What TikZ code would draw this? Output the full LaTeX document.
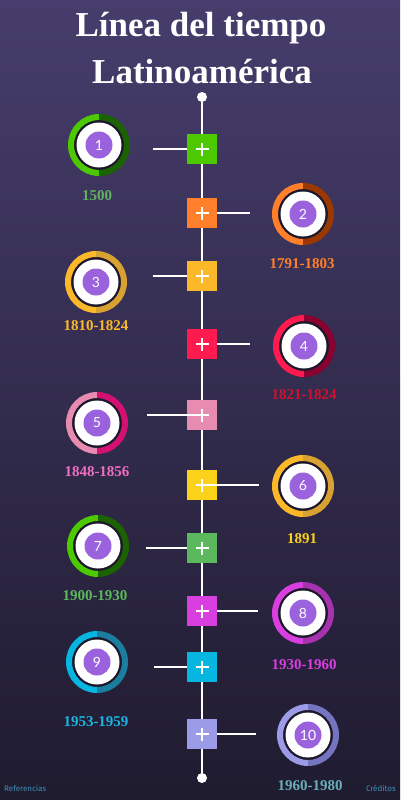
\documentclass[tikz,border=0pt]{standalone}
\usepackage{fontspec}
\setmainfont{Liberation Serif}
\newfontfamily\badgefont{Lato}
\newfontfamily\footfont{Fira Sans}
\usetikzlibrary{positioning}

\definecolor{bgtop}{HTML}{463D6C}
\definecolor{bgbottom}{HTML}{1F1B2F}
\definecolor{badgepurple}{HTML}{9B62DE}
\definecolor{shadowring}{HTML}{1C1829}
\definecolor{footblue}{HTML}{3E8FB5}
% square / ring colours
\definecolor{cA}{HTML}{4CC900} \definecolor{dA}{HTML}{1B6300}
\definecolor{cB}{HTML}{FF7F2A} \definecolor{dB}{HTML}{9A3800}
\definecolor{cC}{HTML}{FBB829} \definecolor{dC}{HTML}{D8A233}
\definecolor{cD}{HTML}{FF1A4F} \definecolor{dD}{HTML}{8A0030}
\definecolor{cE}{HTML}{E88BB0} \definecolor{dE}{HTML}{D41073}
\definecolor{cF}{HTML}{FBD219}
\definecolor{cG}{HTML}{5CB85C}
\definecolor{cH}{HTML}{D83EE0} \definecolor{dH}{HTML}{A732B0}
\definecolor{cI}{HTML}{06B6E0} \definecolor{dI}{HTML}{1B7E9E}
\definecolor{cJ}{HTML}{9B9BE8} \definecolor{dJ}{HTML}{7474C0}
% year label colours
\definecolor{yA}{HTML}{5FB35F}
\definecolor{yD}{HTML}{D0122F}
\definecolor{yE}{HTML}{F06EC0}
\definecolor{yI}{HTML}{1CB4E0}
\definecolor{yJ}{HTML}{6AADB8}

% two-tone ring round a badge node
\newcommand{\tworing}[3]{%
  \fill[shadowring] (#1) circle[radius=25];
  \fill[white] (#1) circle[radius=22.5];
  \begin{scope}
    \clip (#1) ++(-33,-33) rectangle ++(33,66);
    \draw[#2, line width=6pt] (#1) circle[radius=28];
  \end{scope}
  \begin{scope}
    \clip (#1) ++(0,-33) rectangle ++(33,66);
    \draw[#3, line width=6pt] (#1) circle[radius=28];
  \end{scope}
}

\begin{document}
\begin{tikzpicture}[x=1pt, y=-1pt,
    plusbox/.style={minimum size=30pt, inner sep=0pt,
      path picture={\draw[white, line width=2.4pt]
        (path picture bounding box.center) +(-6.5pt,0pt) -- +(6.5pt,0pt)
        (path picture bounding box.center) +(0pt,-6.5pt) -- +(0pt,6.5pt);}},
    enddot/.style={circle, fill=white, inner sep=0pt, minimum size=10pt},
    link/.style={white, line width=1.5pt},
    badge/.style={circle, fill=badgepurple, text=white, minimum size=27pt,
      inner sep=0pt, font=\badgefont\fontsize{14}{14}\selectfont},
    year/.style={anchor=base, inner sep=0pt, font=\bfseries\fontsize{15}{15}\selectfont},
    heading/.style={anchor=base, text=white, font=\bfseries\fontsize{35}{35}\selectfont},
    foot/.style={anchor=base, inner sep=0pt, text=footblue, font=\footfont\fontsize{8}{8}\selectfont}]

    % Background
    \useasboundingbox (0,0) rectangle (400,800);
    \fill[top color=bgtop, bottom color=bgbottom] (0,0) rectangle (400,800);

    % Title
    \node[heading] (title1) at (201,37) {Línea del tiempo};
    \node[heading] (title2) at (202,83) {Latinoamérica};

    % Timeline
    \node[enddot] (top)    at (202,97)  {};
    \node[enddot] (bottom) at (202,778) {};
    \draw[link, line width=2pt] (top) -- (bottom);

    % Connector ends
    \coordinate (e1)  at (153,149);
    \coordinate (e2)  at (250,213);
    \coordinate (e3)  at (153,276);
    \coordinate (e4)  at (250,344);
    \coordinate (e5)  at (147,415);
    \coordinate (e6)  at (259,485);
    \coordinate (e7)  at (146,548);
    \coordinate (e8)  at (258,611);
    \coordinate (e9)  at (154,667);
    \coordinate (e10) at (256,734);

    % Squares
    \node[plusbox, fill=cA] (s1)  at (202,149) {};
    \node[plusbox, fill=cB] (s2)  at (202,213) {};
    \node[plusbox, fill=cC] (s3)  at (202,276) {};
    \node[plusbox, fill=cD] (s4)  at (202,344) {};
    \node[plusbox, fill=cE] (s5)  at (202,415) {};
    \node[plusbox, fill=cF] (s6)  at (202,485) {};
    \node[plusbox, fill=cG] (s7)  at (202,548) {};
    \node[plusbox, fill=cH] (s8)  at (202,611) {};
    \node[plusbox, fill=cI] (s9)  at (202,667) {};
    \node[plusbox, fill=cJ] (s10) at (202,734) {};

    % Connectors
    \draw[link] (e1) -- (s1);
    \draw[link] (s2) -- (e2);
    \draw[link] (e3) -- (s3);
    \draw[link] (s4) -- (e4);
    \draw[link] (e5) -- (s5.center);
    \draw[link] (s6.center) -- (e6);
    \draw[link] (e7) -- (s7);
    \draw[link] (s8) -- (e8);
    \draw[link] (e9) -- (s9);
    \draw[link] (s10) -- (e10);

    % Badges
    \coordinate (c1)  at (99,145);
    \coordinate (c2)  at (303,214);
    \coordinate (c3)  at (96,282);
    \coordinate (c4)  at (304,346);
    \coordinate (c5)  at (97,423);
    \coordinate (c6)  at (303,486);
    \coordinate (c7)  at (98,546);
    \coordinate (c8)  at (303,613);
    \coordinate (c9)  at (97,662);
    \coordinate (c10) at (308,735);
    \tworing{c1}{cA}{dA}
    \tworing{c2}{cB}{dB}
    \tworing{c3}{cC}{dC}
    \tworing{c4}{cD}{dD}
    \tworing{c5}{cE}{dE}
    \tworing{c6}{cC}{dC}
    \tworing{c7}{cA}{dA}
    \tworing{c8}{cH}{dH}
    \tworing{c9}{cI}{dI}
    \tworing{c10}{cJ}{dJ}
    \node[badge] (b1)  at (c1)  {1};
    \node[badge] (b2)  at (c2)  {2};
    \node[badge] (b3)  at (c3)  {3};
    \node[badge] (b4)  at (c4)  {4};
    \node[badge] (b5)  at (c5)  {5};
    \node[badge] (b6)  at (c6)  {6};
    \node[badge] (b7)  at (c7)  {7};
    \node[badge] (b8)  at (c8)  {8};
    \node[badge] (b9)  at (c9)  {9};
    \node[badge] (b10) at (c10) {10};

    % Years
    \node[year, text=yA] (y1)  at (97,200)  {1500};
    \node[year, text=cB] (y2)  at (302,268) {1791-1803};
    \node[year, text=cC] (y3)  at (96,330)  {1810-1824};
    \node[year, text=yD] (y4)  at (304,399) {1821-1824};
    \node[year, text=yE] (y5)  at (97,476)  {1848-1856};
    \node[year, text=cF] (y6)  at (302,543) {1891};
    \node[year, text=cG] (y7)  at (95,600)  {1900-1930};
    \node[year, text=cH] (y8)  at (304,669) {1930-1960};
    \node[year, text=yI] (y9)  at (96,726)  {1953-1959};
    \node[year, text=yJ] (y10) at (310,790) {1960-1980};

    % Footer
    \node[foot, anchor=base west] (refs)    at (4,791)   {Referencias};
    \node[foot, anchor=base east] (credits) at (396,791) {Créditos};
\end{tikzpicture}
\end{document}
